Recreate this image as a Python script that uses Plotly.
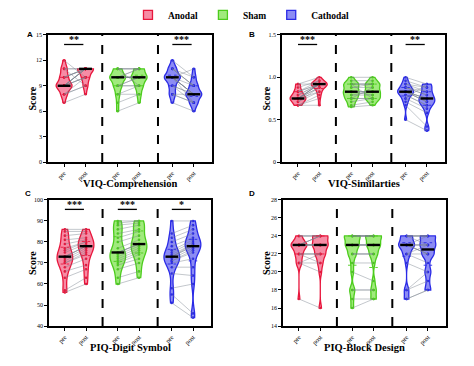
import numpy as np
import plotly.graph_objects as go

# ---------------- data ----------------
groups = ["Anodal", "Sham", "Cathodal"]
phases = ["pre", "post"]
panel_titles = ["VIQ-Comprehension", "VIQ-Similarties", "PIQ-Digit Symbol", "PIQ-Block Design"]
panel_letters = ["A", "B", "C", "D"]

# Panel A: VIQ-Comprehension
a_anodal_pre = [7, 8, 8, 8, 9, 9, 9, 9, 9, 9, 9, 10, 10, 10, 10, 11, 11, 11, 12, 9]
a_anodal_post = [8, 9, 9, 10, 10, 10, 10, 11, 11, 11, 11, 11, 11, 11, 11, 11, 11, 9, 10, 11]
a_sham_pre = [6, 7, 8, 8, 9, 9, 9, 10, 10, 10, 10, 10, 10, 11, 11, 11, 11, 10, 9, 10]
a_sham_post = [7, 8, 8, 9, 9, 9, 10, 10, 10, 10, 10, 10, 11, 11, 11, 11, 9, 10, 10, 11]
a_cath_pre = [7, 8, 8, 9, 9, 10, 10, 10, 10, 10, 10, 11, 11, 11, 12, 10, 9, 10, 11, 8]
a_cath_post = [6, 7, 7, 7, 8, 8, 8, 8, 8, 8, 9, 9, 9, 10, 10, 11, 8, 7, 9, 8]

# Panel B: VIQ-Similarities
b_anodal_pre = [0.67, 0.67, 0.67, 0.71, 0.75, 0.75, 0.75, 0.75, 0.75, 0.75, 0.79, 0.79, 0.83, 0.83, 0.83, 0.88, 0.92, 0.92, 0.71, 0.75]
b_anodal_post = [0.67, 0.75, 0.79, 0.83, 0.83, 0.88, 0.88, 0.92, 0.92, 0.92, 0.92, 0.92, 0.92, 0.92, 0.96, 0.96, 1.0, 0.92, 0.88, 0.92]
b_sham_pre = [0.65, 0.67, 0.71, 0.75, 0.75, 0.79, 0.79, 0.83, 0.83, 0.83, 0.88, 0.92, 0.92, 0.92, 0.96, 1.0, 0.83, 0.75, 0.88, 0.92]
b_sham_post = [0.67, 0.71, 0.75, 0.75, 0.75, 0.79, 0.83, 0.83, 0.83, 0.83, 0.88, 0.92, 0.92, 0.92, 0.96, 1.0, 0.79, 0.88, 0.92, 0.75]
b_cath_pre = [0.5, 0.67, 0.71, 0.75, 0.79, 0.79, 0.83, 0.83, 0.83, 0.83, 0.83, 0.88, 0.88, 0.92, 0.92, 0.96, 1.0, 0.75, 0.83, 0.88]
b_cath_post = [0.37, 0.42, 0.58, 0.63, 0.67, 0.67, 0.71, 0.71, 0.75, 0.75, 0.75, 0.79, 0.83, 0.83, 0.88, 0.88, 0.92, 0.92, 0.71, 0.79]

# Panel C: PIQ-Digit Symbol
c_anodal_pre = [56, 57, 63, 66, 68, 70, 71, 72, 73, 73, 73, 75, 77, 79, 81, 83, 85, 86, 70, 76]
c_anodal_post = [60, 63, 67, 69, 72, 74, 76, 77, 78, 78, 78, 79, 80, 81, 82, 84, 85, 86, 75, 80]
c_sham_pre = [60, 63, 67, 69, 70, 71, 72, 74, 75, 75, 75, 77, 80, 82, 84, 86, 88, 89, 90, 73]
c_sham_post = [63, 66, 70, 72, 74, 75, 76, 78, 79, 79, 79, 81, 83, 85, 86, 88, 89, 90, 90, 77]
c_cath_pre = [51, 55, 58, 65, 68, 70, 71, 72, 73, 73, 73, 74, 75, 76, 78, 80, 82, 84, 90, 71]
c_cath_post = [44, 46, 60, 64, 68, 72, 75, 77, 78, 78, 79, 79, 80, 81, 82, 84, 86, 88, 90, 76]

# Panel D: PIQ-Block Design
d_anodal_pre = [17, 21, 21, 22, 22, 22, 23, 23, 23, 23, 23, 23, 23, 23, 24, 24, 24, 21, 22, 23]
d_anodal_post = [16, 20, 21, 22, 22, 22, 23, 23, 23, 23, 23, 24, 24, 24, 24, 24, 24, 22, 21, 23]
d_sham_pre = [16, 17, 18, 18, 20, 21, 22, 22, 23, 23, 23, 23, 24, 24, 24, 24, 24, 24, 23, 22]
d_sham_post = [17, 17, 18, 18, 19, 21, 22, 22, 23, 23, 23, 23, 24, 24, 24, 24, 24, 24, 23, 22]
d_cath_pre = [17, 17, 18, 18, 21, 22, 22, 23, 23, 23, 23, 23, 24, 24, 24, 24, 24, 23, 22, 23]
d_cath_post = [18, 18, 19, 20, 20, 21, 22, 22, 22, 23, 23, 23, 23, 24, 24, 24, 24, 24, 23, 22]

panel_data = [
    [(a_anodal_pre, a_anodal_post), (a_sham_pre, a_sham_post), (a_cath_pre, a_cath_post)],
    [(b_anodal_pre, b_anodal_post), (b_sham_pre, b_sham_post), (b_cath_pre, b_cath_post)],
    [(c_anodal_pre, c_anodal_post), (c_sham_pre, c_sham_post), (c_cath_pre, c_cath_post)],
    [(d_anodal_pre, d_anodal_post), (d_sham_pre, d_sham_post), (d_cath_pre, d_cath_post)],
]

y_ranges = [(0, 15), (0, 1.5), (40, 100), (14, 28)]
y_tickvals = [[0, 3, 6, 9, 12, 15], [0, 0.5, 1.0, 1.5],
              [40, 50, 60, 70, 80, 90, 100], [14, 16, 18, 20, 22, 24, 26, 28]]
y_ticktext = [["0", "3", "6", "9", "12", "15"], ["0", "0.5", "1.0", "1.5"],
              ["40", "50", "60", "70", "80", "90", "100"],
              ["14", "16", "18", "20", "22", "24", "26", "28"]]
bandwidths = [0.45, 0.035, 3.2, 0.45]

# significance labels per panel per group ("" = none)
sig_labels = [["**", "", "***"], ["***", "", "**"], ["***", "***", "*"], ["", "", ""]]

# ---------------- style ----------------
fill_colors = ["rgba(240,70,110,0.62)", "rgba(120,225,70,0.70)", "rgba(95,95,240,0.72)"]
line_colors = ["#e8163c", "#4ccc1c", "#2a2ae6"]
SERIF = "Liberation Serif, Times New Roman, serif"

group_pos = [(1.0, 2.0), (3.5, 4.5), (6.05, 7.05)]
separators = [2.78, 5.38]
x_range = [0.25, 7.9]

W, H = 474, 366
dom_x = [(48, 212), (282, 445), (49, 211), (283, 446)]
dom_y = [(20, 154), (20, 154), (194, 327), (194, 327)]
letter_pos = [(30, 20), (252, 20), (28, 187), (252, 187)]

fig = go.Figure()
shapes = []
annotations = []

# legend-only swatches
for g in range(3):
    fig.add_trace(go.Scatter(
        x=[None], y=[None], mode="markers", name=groups[g],
        marker=dict(symbol="square", size=9, color=fill_colors[g],
                    line=dict(color=line_colors[g], width=1.3)),
        showlegend=True, hoverinfo="skip"))

for p in range(4):
    ax = "" if p == 0 else str(p + 1)
    xref, yref = "x" + ax, "y" + ax
    lo, hi = y_ranges[p]
    for g in range(3):
        pre, post = panel_data[p][g]
        xpre, xpost = group_pos[g]
        for k, vals in enumerate((pre, post)):
            xc = (xpre, xpost)[k]
            fig.add_trace(go.Violin(
                x0=xc, y=vals, xaxis=xref, yaxis=yref,
                width=0.74, scalemode="width", spanmode="hard",
                bandwidth=bandwidths[p],
                fillcolor=fill_colors[g],
                line=dict(color=line_colors[g], width=1.3),
                points="all", pointpos=0, jitter=0,
                marker=dict(size=2.6, color=line_colors[g]),
                box_visible=False, meanline_visible=False,
                name=groups[g], showlegend=False, hoverinfo="skip",
            ))
        # paired subject lines
        lx, ly = [], []
        for a, b in zip(pre, post):
            lx += [xpre, xpost, None]
            ly += [a, b, None]
        fig.add_trace(go.Scatter(x=lx, y=ly, xaxis=xref, yaxis=yref, mode="lines",
                                 line=dict(color="rgba(120,130,140,0.75)", width=0.6),
                                 showlegend=False, hoverinfo="skip"))
        # quartile + median lines
        for k, vals in enumerate((pre, post)):
            xc = (xpre, xpost)[k]
            q1, med, q3 = np.percentile(vals, [25, 50, 75])
            fig.add_trace(go.Scatter(x=[xc - 0.2, xc + 0.2, None, xc - 0.2, xc + 0.2],
                                     y=[q1, q1, None, q3, q3], xaxis=xref, yaxis=yref,
                                     mode="lines",
                                     line=dict(color=line_colors[g], width=0.9, dash="dot"),
                                     showlegend=False, hoverinfo="skip"))
            fig.add_trace(go.Scatter(x=[xc - 0.3, xc + 0.3], y=[med, med],
                                     xaxis=xref, yaxis=yref, mode="lines",
                                     line=dict(color="black", width=2.4),
                                     showlegend=False, hoverinfo="skip"))
        # significance bar
        if sig_labels[p][g]:
            shapes.append(dict(type="line", xref=xref, yref=yref + " domain",
                               x0=xpre, x1=xpost - 0.1, y0=0.925, y1=0.925,
                               line=dict(color="black", width=1.3)))
            annotations.append(dict(xref=xref, yref=yref + " domain",
                                    x=(xpre + xpost - 0.1) / 2, y=0.925,
                                    xanchor="center", yanchor="bottom", yshift=-3,
                                    text="<b>" + sig_labels[p][g] + "</b>", showarrow=False,
                                    font=dict(family=SERIF, size=10, color="black")))
    # separators
    for s in separators:
        shapes.append(dict(type="line", xref=xref, yref=yref + " domain",
                           x0=s, x1=s, y0=0, y1=1,
                           line=dict(color="black", width=2, dash="dash")))
    # axes
    x0p, x1p = dom_x[p]
    y0p, y1p = dom_y[p]
    fig.update_layout(**{
        "xaxis" + ax: dict(domain=[x0p / W, x1p / W], range=x_range,
                           tickvals=[v for pr in group_pos for v in pr],
                           ticktext=phases * 3, tickangle=-45,
                           ticks="outside", ticklen=3, tickwidth=1, tickcolor="black",
                           showline=True, linecolor="black", linewidth=1.5, mirror=True,
                           showgrid=False, zeroline=False, anchor="y" + ax,
                           tickfont=dict(family=SERIF, size=6.5, color="black")),
        "yaxis" + ax: dict(domain=[1 - y1p / H, 1 - y0p / H], range=[lo, hi],
                           tickvals=y_tickvals[p], ticktext=y_ticktext[p],
                           ticks="outside", ticklen=3, tickwidth=1, tickcolor="black",
                           showline=True, linecolor="black", linewidth=1.5, mirror=True,
                           showgrid=False, zeroline=False, anchor="x" + ax,
                           tickfont=dict(family=SERIF, size=6, color="black")),
    })
    # x title
    annotations.append(dict(xref="paper", yref="paper", x=(x0p + x1p) / 2 / W,
                            y=1 - (y1p + 23) / H, xanchor="center", yanchor="middle",
                            text="<b>" + panel_titles[p] + "</b>",
                            showarrow=False, font=dict(family=SERIF, size=10.5, color="black")))
    # y title
    annotations.append(dict(xref="paper", yref="paper", x=(x0p - 16) / W,
                            y=1 - (y0p + y1p) / 2 / H, xanchor="center", yanchor="middle",
                            text="<b>Score</b>", textangle=-90,
                            showarrow=False, font=dict(family=SERIF, size=10, color="black")))
    # panel letter
    lx0, ly0 = letter_pos[p]
    annotations.append(dict(xref="paper", yref="paper", x=lx0 / W, y=1 - ly0 / H,
                            xanchor="center", yanchor="middle",
                            text="<b>" + panel_letters[p] + "</b>", showarrow=False,
                            font=dict(family="Liberation Sans, Arial, sans-serif", size=8,
                                      color="black")))

fig.update_layout(
    width=W, height=H, margin=dict(l=0, r=0, t=0, b=0),
    paper_bgcolor="white", plot_bgcolor="white",
    violinmode="overlay",
    shapes=shapes, annotations=annotations,
    legend=dict(orientation="h", x=0.27, y=1.045, xanchor="left", yanchor="top",
                font=dict(family=SERIF, size=9.5, color="black", weight="bold"),
                bgcolor="rgba(0,0,0,0)", itemclick=False, tracegroupgap=0),
)

css_fix = ("var s=document.createElement('style');"
           "s.textContent='html,body{margin:0!important;padding:0!important;overflow:hidden!important;}';"
           "document.head.appendChild(s);")
fig.write_html("out.html", config={"displayModeBar": False}, post_script=css_fix)
